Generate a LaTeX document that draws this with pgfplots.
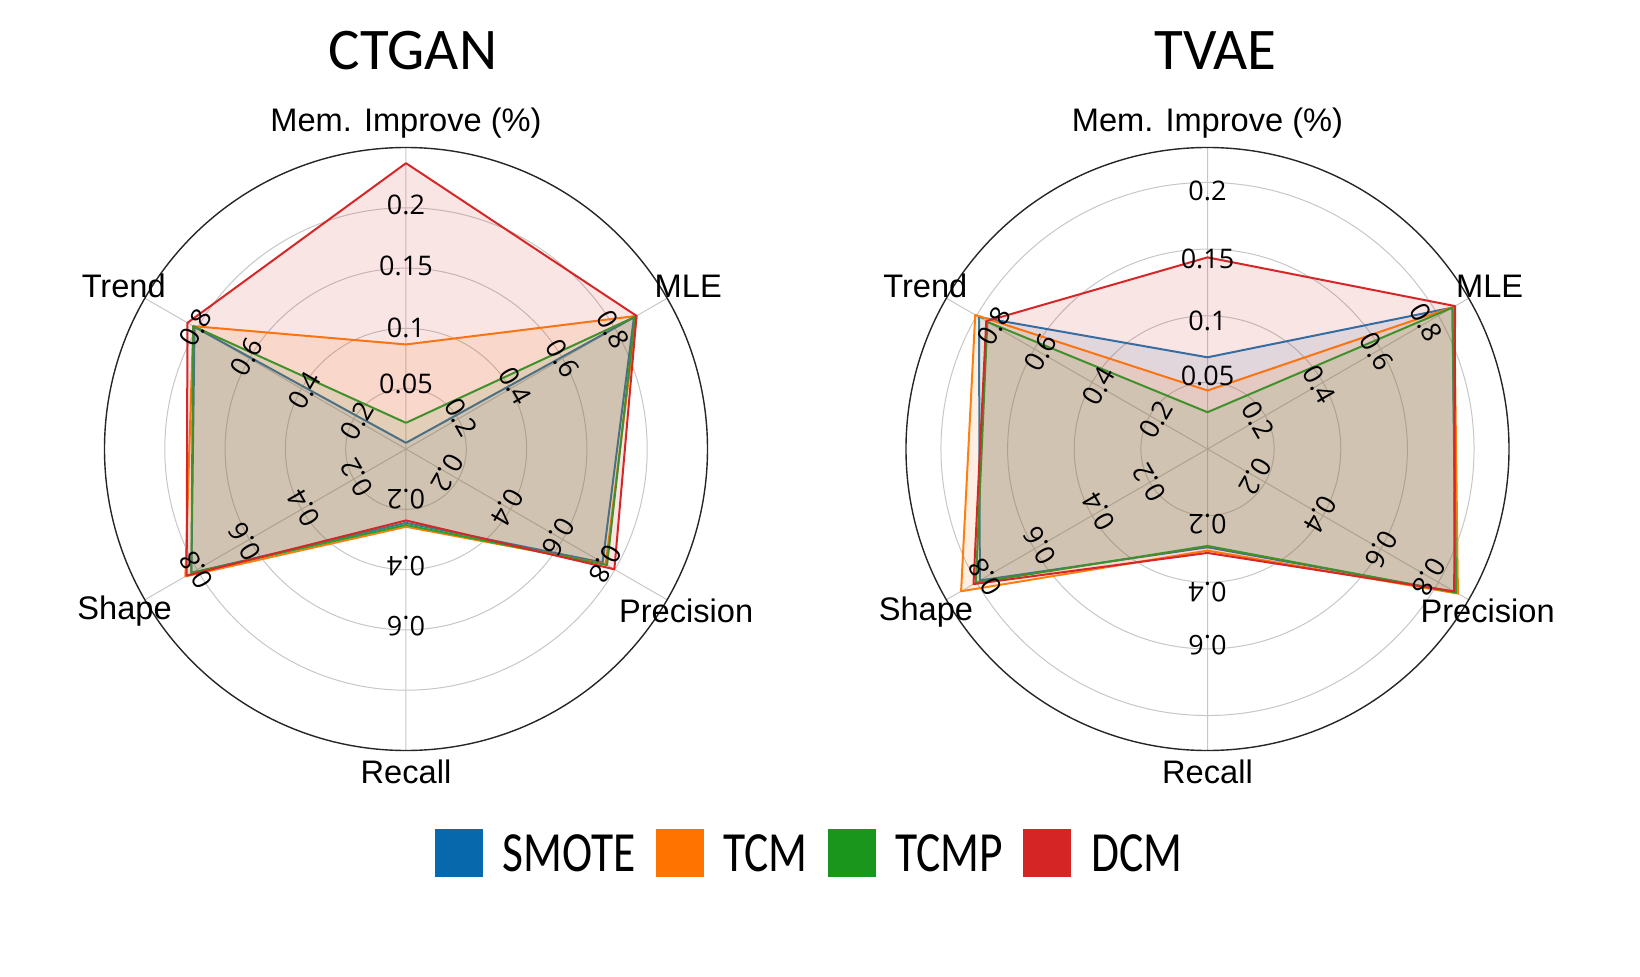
\documentclass[border=0pt]{standalone}
\usepackage{fontspec}
\usepackage{pgfplots}
\pgfplotsset{compat=1.18}
\usepackage{pgfplotstable}
\usepgfplotslibrary{polar}
\setmainfont{Liberation Sans}
\newfontfamily\tickfamily{Open Sans}
\newfontfamily\titlefamily{Carlito}
\newfontfamily\legfamily[FakeStretch=0.8]{Carlito}

\definecolor{cSMOTE}{HTML}{1F77B4}
\definecolor{cTCM}{HTML}{FF7F0E}
\definecolor{cTCMP}{HTML}{2CA02C}
\definecolor{cDCM}{HTML}{D62728}
\definecolor{lSMOTE}{HTML}{0868AC}
\definecolor{lTCM}{HTML}{FF7300}
\definecolor{lTCMP}{HTML}{1A961D}
\definecolor{lDCM}{HTML}{D52525}

% angle: 90 Mem. Improve, 30 MLE, -30 Precision, -90 Recall, -150 Shape, -210 Trend
% f: Mem. Improve is on a 4x finer scale than the other axes
\pgfplotstableread{
ang  f SMOTE  TCM    TCMP   DCM
90   4 0.0051 0.0867 0.0217 0.237
30   1 0.873  0.883  0.877  0.883
-30  1 0.753  0.765  0.770  0.798
-90  1 0.245  0.258  0.252  0.237
-150 1 0.822  0.845  0.822  0.840
-210 1 0.810  0.815  0.815  0.837
-270 4 0.0051 0.0867 0.0217 0.237
}\ctgan

\pgfplotstableread{
ang  f SMOTE  TCM    TCMP   DCM
90   4 0.0688 0.0439 0.0276 0.1438
30   1 0.849  0.855  0.849  0.858
-30  1 0.860  0.868  0.862  0.855
-90  1 0.295  0.305  0.291  0.312
-150 1 0.789  0.854  0.803  0.811
-210 1 0.792  0.805  0.763  0.767
-270 4 0.0688 0.0439 0.0276 0.1438
}\tvae

\newcommand\catfont{\fontsize{16.3}{18}\selectfont}
\newcommand\tkfont{\tickfamily\fontsize{13.5}{14}\selectfont}
\newcommand\rt[3]{\node[font=\tkfont, rotate={#1-90}, inner sep=0pt] at (axis cs:#1,#2) {#3};}
\newcommand\legbox[1]{\addlegendimage{legend image code/.code={\fill[#1] (0pt,-10.75pt) rectangle (23.5pt,12.75pt);}}}

\pgfplotsset{
  radar/.style={
    scale only axis, width=301.5pt, height=301.5pt,
    xmin=0, xmax=360, ymin=0, ymax=#1,
    xtick={30,90,150,210,270,330}, xticklabel=\empty,
    ytick={0.2,0.4,0.6,0.8}, yticklabel=\empty,
    extra y ticks={#1}, extra y tick labels={},
    extra y tick style={major grid style={draw=black!85, line width=0.7pt}},
    grid=major, major grid style={draw=black!22, line width=0.5pt},
    axis line style={draw=none}, tick style={draw=none},
    clip=false,
  },
  series/.style={draw=#1, fill=#1, fill opacity=0.12, line width=1pt,
    line join=round, forget plot},
}

\begin{document}
\begin{tikzpicture}
\path[use as bounding box] (0,0) rectangle (820pt,488pt);

\node[font=\titlefamily\fontsize{29.5}{30}\selectfont, anchor=base] at (206.5pt,453pt) {CTGAN};
\node[font=\titlefamily\fontsize{29.5}{30}\selectfont, anchor=base] at (607.75pt,453pt) {TVAE};

\begin{polaraxis}[radar=1, at={(203pt,263.5pt)}, anchor=center,
  legend columns=4,
  legend style={at={(1.1675,-0.170)}, anchor=center, draw=none, fill=none,
    inner sep=0pt, font=\legfamily\fontsize{28.4}{30}\selectfont,
    /tikz/every odd column/.style={column sep=10pt},
    /tikz/every even column/.style={column sep=10pt},
    nodes={inner sep=0pt}},
  legend cell align=left]
\addplot[series=cSMOTE] table[x=ang, y expr=\thisrow{SMOTE}*\thisrow{f}] {\ctgan};
\addplot[series=cTCM] table[x=ang, y expr=\thisrow{TCM}*\thisrow{f}] {\ctgan};
\addplot[series=cTCMP] table[x=ang, y expr=\thisrow{TCMP}*\thisrow{f}] {\ctgan};
\addplot[series=cDCM] table[x=ang, y expr=\thisrow{DCM}*\thisrow{f}] {\ctgan};

\legbox{lSMOTE}\addlegendentry{SMOTE}
\legbox{lTCM}\addlegendentry{TCM}
\legbox{lTCMP}\addlegendentry{TCMP}
\legbox{lDCM}\addlegendentry{DCM}

\node[font=\catfont] at (axis cs:90,1.081) {Mem. Improve (\%)};
\node[font=\catfont] at (axis cs:30,1.081) {MLE};
\node[font=\catfont] at (axis cs:-30,1.073) {Precision};
\node[font=\catfont] at (axis cs:-90,1.07) {Recall};
\node[font=\catfont] at (axis cs:-150,1.078) {Shape};
\node[font=\catfont] at (axis cs:-210,1.081) {Trend};

\rt{90}{0.215}{0.05}\rt{90}{0.401}{0.1}\rt{90}{0.606}{0.15}\rt{90}{0.811}{0.2}
\rt{30}{0.211}{0.2}\rt{30}{0.419}{0.4}\rt{30}{0.600}{0.6}\rt{30}{0.793}{0.8}
\rt{-30}{0.159}{0.2}\rt{-30}{0.388}{0.4}\rt{-30}{0.583}{0.6}\rt{-30}{0.764}{0.8}
\rt{-90}{0.167}{0.2}\rt{-90}{0.388}{0.4}\rt{-90}{0.587}{0.6}
\rt{-150}{0.189}{0.2}\rt{-150}{0.391}{0.4}\rt{-150}{0.616}{0.6}\rt{-150}{0.803}{0.8}
\rt{-210}{0.187}{0.2}\rt{-210}{0.388}{0.4}\rt{-210}{0.610}{0.6}\rt{-210}{0.806}{0.8}
\end{polaraxis}

\begin{polaraxis}[radar=0.905, at={(603.75pt,263.5pt)}, anchor=center]
\addplot[series=cSMOTE] table[x=ang, y expr=\thisrow{SMOTE}*\thisrow{f}] {\tvae};
\addplot[series=cTCM] table[x=ang, y expr=\thisrow{TCM}*\thisrow{f}] {\tvae};
\addplot[series=cTCMP] table[x=ang, y expr=\thisrow{TCMP}*\thisrow{f}] {\tvae};
\addplot[series=cDCM] table[x=ang, y expr=\thisrow{DCM}*\thisrow{f}] {\tvae};

\node[font=\catfont] at (axis cs:90,0.978) {Mem. Improve (\%)};
\node[font=\catfont] at (axis cs:30,0.978) {MLE};
\node[font=\catfont] at (axis cs:-30,0.971) {Precision};
\node[font=\catfont] at (axis cs:-90,0.968) {Recall};
\node[font=\catfont] at (axis cs:-150,0.976) {Shape};
\node[font=\catfont] at (axis cs:-210,0.978) {Trend};

\rt{90}{0.220}{0.05}\rt{90}{0.385}{0.1}\rt{90}{0.570}{0.15}\rt{90}{0.775}{0.2}
\rt{30}{0.175}{0.2}\rt{30}{0.387}{0.4}\rt{30}{0.586}{0.6}\rt{30}{0.759}{0.8}
\rt{-30}{0.165}{0.2}\rt{-30}{0.392}{0.4}\rt{-30}{0.603}{0.6}\rt{-30}{0.768}{0.8}
\rt{-90}{0.225}{0.2}\rt{-90}{0.431}{0.4}\rt{-90}{0.589}{0.6}
\rt{-150}{0.202}{0.2}\rt{-150}{0.376}{0.4}\rt{-150}{0.581}{0.6}\rt{-150}{0.770}{0.8}
\rt{-210}{0.178}{0.2}\rt{-210}{0.377}{0.4}\rt{-210}{0.578}{0.6}\rt{-210}{0.740}{0.8}
\end{polaraxis}
\end{tikzpicture}
\end{document}
